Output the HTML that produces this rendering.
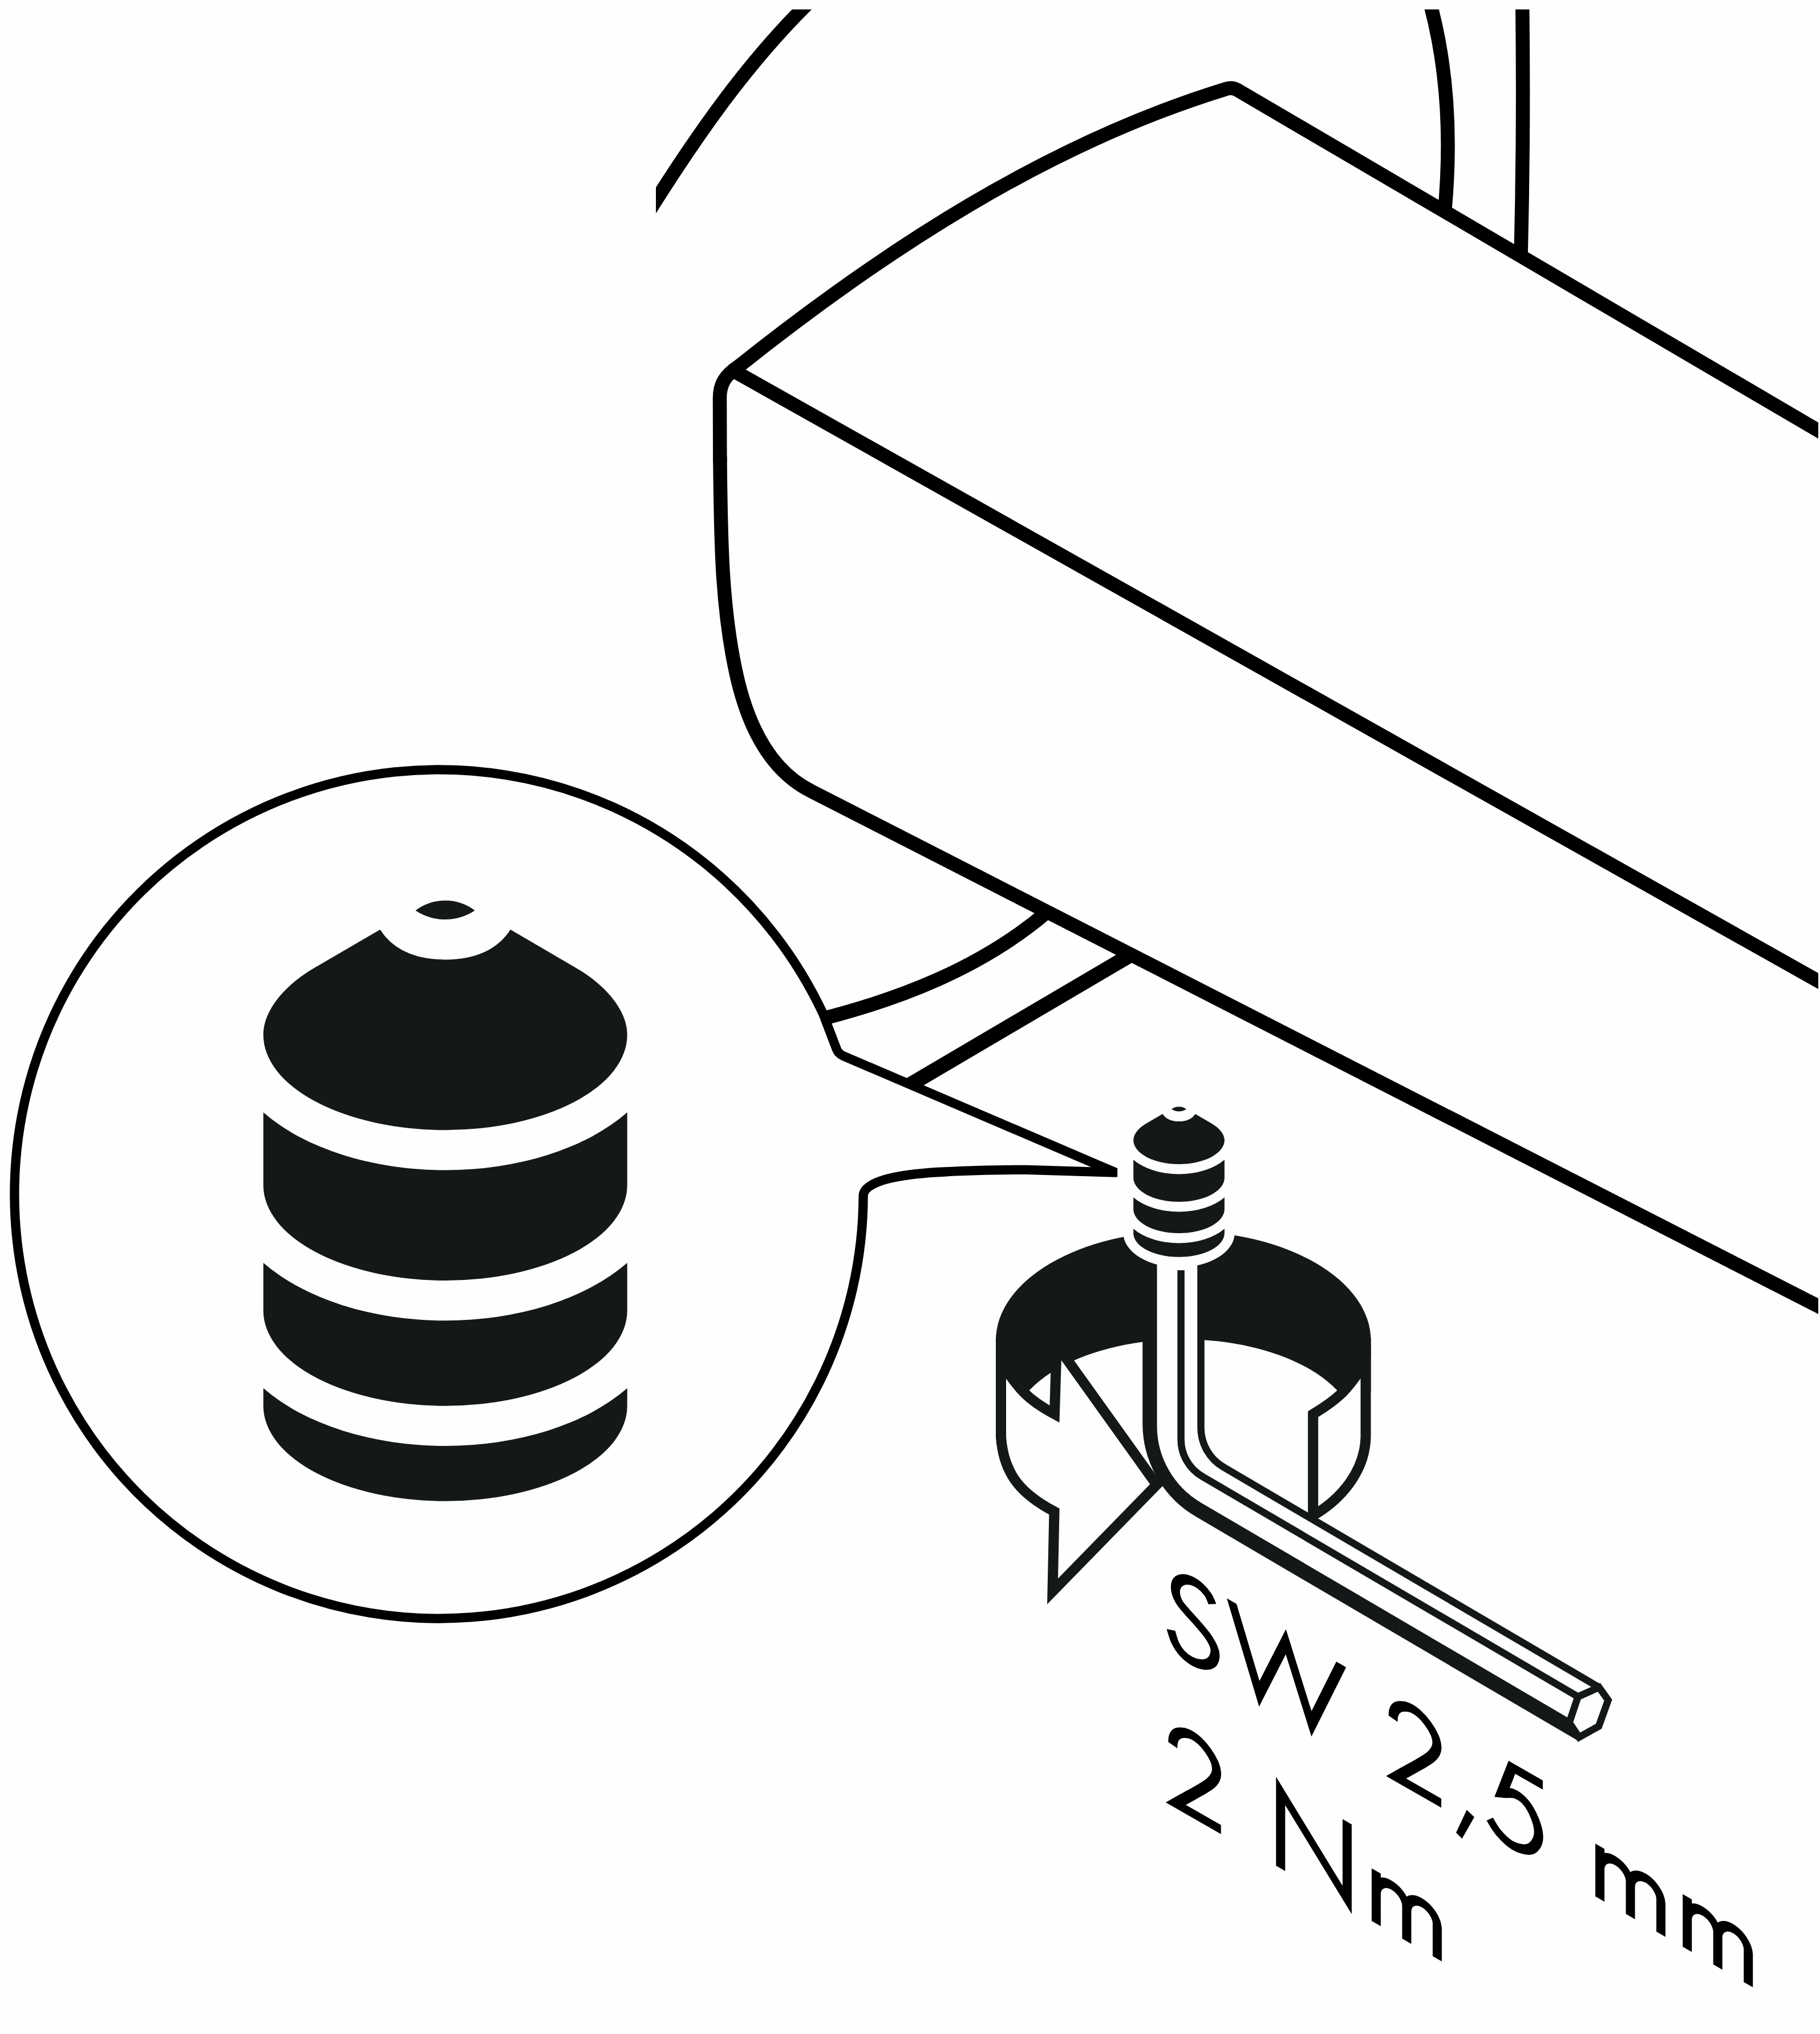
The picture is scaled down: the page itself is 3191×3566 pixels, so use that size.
<!DOCTYPE html>
<html><head><meta charset="utf-8"><title>SW 2,5 mm 2 Nm</title>
<style>html,body{margin:0;padding:0;background:#fff;font-family:"Liberation Sans",sans-serif}svg{display:block}</style>
</head><body>
<svg width="3191" height="3566" viewBox="0 0 3191 3566">
<rect width="3191" height="3566" fill="#fefefe"/>
<clipPath id="cm"><rect x="1150" y="16.5" width="2038" height="3600"/></clipPath>
<g clip-path="url(#cm)" fill="none" stroke="#000" stroke-width="24.5" stroke-linejoin="round" stroke-linecap="butt">
<path d="M1136.0,373.3 C1220.0,239.7 1309.4,110.0 1423.0,-0.5"/>
<path d="M2505.0,-3.0 C2539.2,118.5 2544.6,245.8 2533.0,371.0"/>
<path d="M2669.0,-3.0 C2671.0,147.8 2670.3,298.3 2666.5,449.0"/>
<path d="M1262.3,800 C1263.9,924.2 1263.4,1049.6 1288.8,1171.6 C1305.9,1255.4 1342.0,1347.6 1423.7,1387.7 L3300,2347.3"/>
<path d="M1262.3,810 L1262,700.9 C1261.1,672.6 1272.4,657.2 1295.0,642.3 C1550.8,438.7 1835.7,252.3 2150.3,155.7 Q2160.5,152.4 2170,158 L3300,820.5"/>
<path d="M1286,650 L3300,1783.0"/>
<path d="M1836.0,1598.7 C1720.3,1697.3 1575.7,1752.8 1430.0,1789.0"/>
<path d="M1983.1,1673.7 L1590,1905" stroke-width="26"/>
</g>
<clipPath id="cc"><rect x="-50" y="1200" width="2009.2" height="1800"/></clipPath>
<path d="M1443.1,1777.3 L1466.5,1838.5 Q1469.5,1847 1478,1851 L1955.7,2055.6 L1800,2050.8 C1750,2051 1700,2052 1655.8,2054.5 C1600,2057 1513,2066 1513.6,2097.0 A744.1,744.1 0 1 1 1443.1,1777.3 Z" fill="#fefefe" stroke="#000" stroke-width="16.3" stroke-linejoin="round" clip-path="url(#cc)"/>
<g id="screw" fill="#141819"><path d="M728.5,1596.2 A86.4,86.4 0 0 1 832.6,1596.2 A93.5,93.5 0 0 1 728.5,1596.2 Z"/>
<path d="M666.4,1629.7 Q700,1682 780.7,1682.4 Q861,1682 895,1629.7 L1010,1697 C1060,1726 1099.7,1770 1099.7,1814.3 A319,167 0 0 1 461.7,1814.3 C461.7,1770 501,1726 551,1697 Z"/>
<path d="M461.7,1950.3 A389.3,237.3 0 0 0 1099.7,1950.3 L1099.7,2078.0 A319,167 0 0 1 461.7,2078.0 Z"/>
<path d="M461.7,2214.0 A389.3,237.3 0 0 0 1099.7,2214.0 L1099.7,2297.8 A319,167 0 0 1 461.7,2297.8 Z"/>
<path d="M461.7,2433.8 A389.3,237.3 0 0 0 1099.7,2433.8 L1099.7,2464.8 A319,167 0 0 1 461.7,2464.8 Z"/></g>
<g fill="none" stroke="#141819" stroke-width="18" stroke-linejoin="miter" stroke-miterlimit="5">
<path d="M1746,2350 A328.75,191.6 0 0 1 2403.5,2350 L2403.5,2372 A328.75,150 0 0 1 1746,2372 Z" fill="#141819" stroke="none"/>
<ellipse cx="2074.5" cy="2514" rx="304" ry="166" fill="#fefefe" stroke="none"/>
<path d="M1755,2345 L1755,2440 M2394.5,2345 L2394.5,2440"/>
<path d="M1755,2388 L1755,2519.8 C1759.9,2585.9 1791.7,2619.8 1848.5,2650.0 L1845.5,2790 L2028,2603 L1852.7,2358 L1848.9,2479.2 C1800.4,2452.9 1785.3,2434.3 1755.0,2388.0 Z" fill="#fefefe"/>
<path d="M2394.5,2388 L2394.5,2519.8 C2392.9,2579.4 2351.6,2628.2 2302.2,2657.0 L2302.2,2479.2 C2350.6,2449.9 2363.1,2435.2 2394.5,2388.0 Z" fill="#fefefe"/>
</g>
<path d="M2105.5,2200.0 L2105.5,2503.0 C2105.5,2531.4 2120.6,2557.8 2145.2,2572.2 L2803.5,2958.2 L2819.6,2980.7 L2803.1,3026.4 L2768.6,3045.7 L2768.6,3045.7 L2100.1,2653.7 C2044.0,2620.9 2009.5,2560.6 2009.5,2495.6 L2009.5,2200.0 Z" fill="#fefefe" stroke="none"/>
<g fill="none" stroke="#141819" stroke-width="12.5" stroke-linejoin="miter" stroke-linecap="butt">
<path d="M2015.9,2200.0 L2015.9,2497.7 C2015.9,2559.0 2048.4,2615.8 2101.3,2646.8 L2760.0,3032.9" stroke-width="5"/>
<path d="M2105.5,2200.0 L2105.5,2503.0 C2105.5,2531.4 2120.6,2557.8 2145.2,2572.2 L2803.5,2958.2"/>
<path d="M2070.6,2227.0 L2070.6,2523.6 C2070.6,2550.3 2084.7,2574.9 2107.7,2588.4 L2766.6,2974.7"/>
<path d="M2022.3,2200.0 L2022.3,2499.7 C2022.3,2557.3 2052.9,2610.6 2102.5,2639.8 L2751.4,3020.2"/>
<path d="M2009.5,2200.0 L2009.5,2495.6 C2009.5,2560.6 2044.0,2620.9 2100.1,2653.7 L2768.6,3045.7"/>
<path d="M2803.5,2958.2 L2819.6,2980.7 L2803.1,3026.4 L2768.6,3045.7 L2751.4,3020.2 L2766.6,2974.7 Z"/>
</g>
<path d="M1969.5,2090 L1969.5,2162 A97.6,59.7 0 0 0 2164.7,2162 L2164.7,2090 Z" fill="#fefefe"/>
<use href="#screw" transform="translate(1871.64,1544.98) scale(0.2503)"/>
<clipPath id="capclip"><rect x="2100" y="2715" width="400" height="200"/><rect x="2232" y="2690" width="45" height="30"/></clipPath>
<g transform="matrix(1,0.5774,0,1,0,-1154.80)" fill="none" stroke="#000" stroke-width="16" stroke-linejoin="miter" stroke-miterlimit="10" stroke-linecap="butt">
<path d="M2125.5,2739.7 C2124.2,2737.6 2121.8,2730.5 2117.4,2727.1 C2113.0,2723.7 2105.6,2719.9 2099.1,2719.4 C2092.7,2718.8 2084.6,2720.6 2078.8,2723.6 C2073.0,2726.6 2067.5,2732.3 2064.6,2737.3 C2061.6,2742.3 2060.6,2748.4 2060.9,2753.6 C2061.2,2758.9 2063.3,2764.5 2066.6,2768.6 C2069.9,2772.8 2075.4,2775.4 2080.8,2778.7 C2086.2,2782.0 2093.0,2784.9 2099.1,2788.5 C2105.2,2792.1 2112.5,2796.0 2117.4,2800.3 C2122.3,2804.6 2126.5,2809.6 2128.6,2814.2 C2130.7,2818.7 2130.9,2822.7 2130.0,2827.6 C2129.2,2832.5 2127.0,2838.9 2123.5,2843.5 C2120.1,2848.1 2114.7,2852.4 2109.3,2855.2 C2103.9,2858.0 2097.1,2860.0 2091.0,2860.3 C2084.9,2860.5 2077.8,2859.1 2072.7,2856.6 C2067.6,2854.1 2063.8,2850.3 2060.5,2845.3 C2057.2,2840.4 2054.2,2830.0 2053.0,2826.9"/>
<path d="M2148,2683 L2207.9,2849.5 L2254.5,2731.3 L2299.4,2849.4 L2364,2683" clip-path="url(#capclip)"/>
<path id="two" d="M2442.5,2757.8 C2442.7,2756.0 2442.5,2750.6 2443.5,2746.9 C2444.5,2743.2 2446.0,2738.9 2448.5,2735.6 C2450.9,2732.2 2454.4,2729.3 2458.4,2726.9 C2462.3,2724.5 2467.3,2722.0 2472.2,2721.3 C2477.1,2720.6 2482.7,2720.9 2488.0,2722.6 C2493.3,2724.3 2499.3,2727.6 2503.8,2731.3 C2508.4,2734.9 2512.7,2740.0 2515.3,2744.4 C2517.9,2748.9 2519.0,2753.5 2519.3,2758.0 C2519.6,2762.4 2519.0,2766.1 2517.1,2771.1 C2515.2,2776.1 2512.5,2781.2 2507.8,2787.7 C2503.1,2794.3 2495.8,2802.6 2489.0,2810.5 C2482.3,2818.3 2474.1,2827.3 2467.3,2835.1 C2460.4,2842.9 2451.0,2853.7 2447.8,2857.4 L2527.0,2857.0"/>
<path d="M2705.0,2722.5 L2650.8,2722.6 L2633.4,2777.1  C2637.0,2775.4 2648.2,2767.7 2655.2,2766.5 C2662.1,2765.3 2669.0,2766.3 2674.9,2770.0 C2680.9,2773.6 2687.0,2781.5 2690.8,2788.5 C2694.6,2795.6 2697.5,2804.4 2697.7,2812.2 C2697.9,2820.0 2695.2,2828.8 2691.8,2835.4 C2688.3,2842.0 2683.7,2848.0 2676.9,2851.9 C2670.2,2855.8 2659.4,2859.0 2651.2,2858.8 C2643.0,2858.6 2634.0,2854.6 2627.5,2850.8 C2620.9,2847.0 2614.6,2838.4 2612.0,2835.9" stroke-miterlimit="3"/>
<path d="M2805.1,2772.0 L2805.1,2864.4 M2805.1,2864.4 L2805.1,2806.8 A26.8,26.8 0 0 1 2858.6,2806.8 L2858.6,2864.4 M2858.6,2864.4 L2858.6,2806.8 A26.8,26.8 0 0 1 2912.1,2806.8 L2912.1,2864.4 "/>
<path d="M2958.3,2772.0 L2958.3,2864.4 M2958.3,2864.4 L2958.3,2806.8 A26.8,26.8 0 0 1 3011.8,2806.8 L3011.8,2864.4 M3011.8,2864.4 L3011.8,2806.8 A26.8,26.8 0 0 1 3065.3,2806.8 L3065.3,2864.4 "/>
<use href="#two" transform="translate(-386.3,269.3)"/>
<path d="M2245.3,3134 L2245.3,2998.2 L2361.9,3122 L2361.9,2985"/>
<path d="M2412.9,3041.6 L2412.9,3134.0 M2412.9,3134.0 L2412.9,3076.3 A26.8,26.8 0 0 1 2466.4,3076.3 L2466.4,3134.0 M2466.4,3134.0 L2466.4,3076.3 A26.8,26.8 0 0 1 2519.9,3076.3 L2519.9,3134.0 "/>
</g>
<polygon points="2571.7,3173.1 2584.9,3185.8 2563.4,3223.4 2552.9,3213.1" fill="#000"/>
</svg>
</body></html>
